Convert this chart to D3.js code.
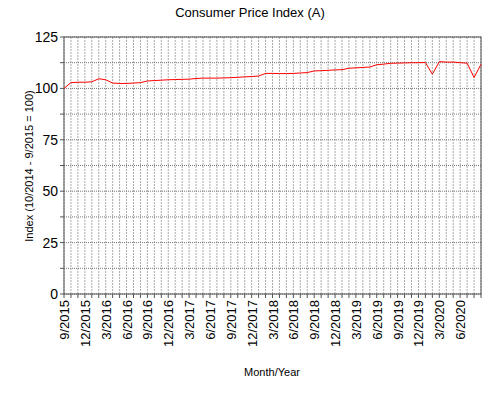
<!DOCTYPE html><html><head><script src="https://cdn.jsdelivr.net/npm/d3@7"></script>
<style>body{margin:0;background:#fff}text{font-family:"Liberation Sans",Arial,sans-serif}</style></head><body><svg width="500" height="400"></svg><script>
const startMonth=[2015,9];
const values=[100,102.8,103,103,103.2,104.7,104.2,102.6,102.4,102.4,102.6,102.8,103.6,103.8,104,104.2,104.3,104.4,104.5,104.8,105,105,105,105.1,105.2,105.4,105.6,105.8,106,107.3,107.3,107.2,107.2,107.3,107.5,107.7,108.5,108.6,108.8,109,109.1,109.8,110,110.2,110.4,111.5,111.8,112.2,112.3,112.4,112.5,112.5,112.6,106.9,113,112.8,112.8,112.5,112.3,105.3,111.7];
const yTicks=[0,25,50,75,100,125];
const svg=d3.select("svg");
const L=64,R=481,T=37,B=294;
const x=d3.scaleLinear().domain([0,values.length-1]).range([L,R]);
const y=d3.scaleLinear().domain([0,125]).range([B,T]);
const lab=m=>{const t=startMonth[1]-1+m;return (t%12+1)+"/"+(startMonth[0]+Math.floor(t/12));};
const g=svg.append("g");
g.selectAll("line.v").data(d3.range(0,values.length)).join("line").attr("x1",d=>x(d)).attr("x2",d=>x(d)).attr("y1",T).attr("y2",B).attr("stroke","#aaa").attr("stroke-dasharray","2,1");
g.selectAll("line.h").data(d3.range(0,126,12.5)).join("line").attr("y1",d=>y(d)).attr("y2",d=>y(d)).attr("x1",L).attr("x2",R).attr("stroke","#777").attr("stroke-dasharray","1,1");
g.append("rect").attr("x",L).attr("y",T).attr("width",R-L).attr("height",B-T).attr("fill","none").attr("stroke","#555");
svg.selectAll("text.y").data(yTicks).join("text").attr("x",L-6).attr("y",d=>y(d)+5).attr("text-anchor","end").attr("font-size",14).text(d=>d);
svg.selectAll("line.yt").data(d3.range(0,126,12.5)).join("line").attr("x1",L-4).attr("x2",L).attr("y1",d=>y(d)).attr("y2",d=>y(d)).attr("stroke","#555");
svg.selectAll("line.xt").data(d3.range(0,values.length)).join("line").attr("x1",d=>x(d)).attr("x2",d=>x(d)).attr("y1",B).attr("y2",B+4).attr("stroke","#555");
svg.selectAll("text.x").data(d3.range(0,values.length-1,3)).join("text").attr("transform",d=>`translate(${x(d)+5},${B+6}) rotate(-90)`).attr("text-anchor","end").attr("font-size",13).text(d=>lab(d));
svg.append("path").datum(values).attr("fill","none").attr("stroke","#f00").attr("stroke-width",1).attr("d",d3.line().x((d,i)=>x(i)).y(d=>y(d)));
svg.append("text").attr("x",250).attr("y",17).attr("text-anchor","middle").attr("font-size",13).text("Consumer Price Index (A)");
svg.append("text").attr("x",272).attr("y",376).attr("text-anchor","middle").attr("font-size",11).text("Month/Year");
svg.append("text").attr("transform","translate(33,166) rotate(-90)").attr("text-anchor","middle").attr("font-size",11).text("Index (10/2014 - 9/2015 = 100)");
</script></body></html>
